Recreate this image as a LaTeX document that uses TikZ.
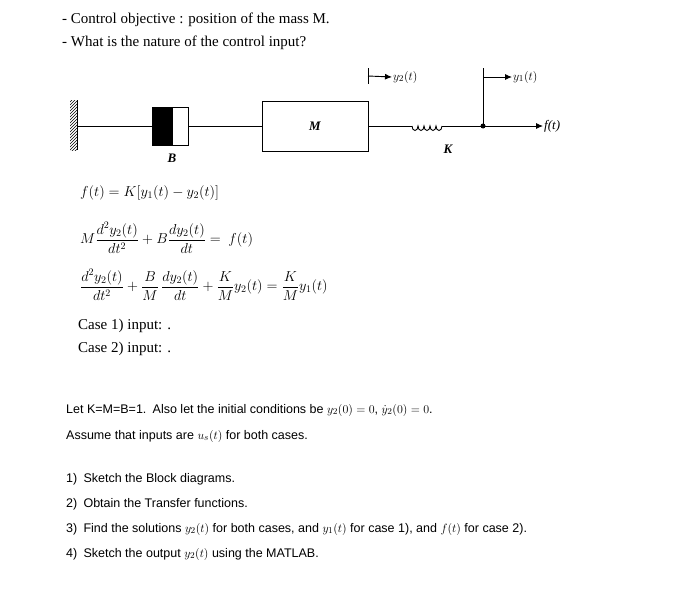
\documentclass[tikz,border=0pt]{standalone}
\usepackage{amsmath}
\usepackage{fontspec}
\setmainfont{Liberation Serif}
\setsansfont{Liberation Sans}
\usetikzlibrary{patterns,arrows.meta}
\begin{document}
\begin{tikzpicture}[x=1pt,y=-1pt,
  ln/.style={line width=0.9pt},
  arr/.style={ln,-{Latex[length=7pt,width=6pt]}},
  ser/.style={anchor=west,inner sep=0pt,font=\fontsize{15}{17}\selectfont},
  sans/.style={anchor=west,inner sep=0pt,font=\sffamily\fontsize{12.5}{15}\selectfont},
  eq/.style={anchor=west,inner sep=0pt,font=\fontsize{14}{16}\selectfont}]
\useasboundingbox (0,0) rectangle (700,589);
\node[ser] (t1) at (62,20) {- Control objective : position of the mass M.};
\node[ser] (t2) at (62,43) {- What is the nature of the control input?};
% wall
\fill[pattern=north east lines] (70,100) rectangle (77,150);
\draw[ln] (77,100) -- (77,150);
\node[draw,ln,fill=black,minimum width=20pt,minimum height=38pt,inner sep=0pt] (db) at (162,126) {};
\node[draw,ln,minimum width=16pt,minimum height=38pt,inner sep=0pt,anchor=west] (dw) at (db.east) {};
\node[draw,ln,minimum width=106pt,minimum height=50pt,inner sep=0pt,font=\itshape\bfseries\fontsize{13}{15}\selectfont] (m) at (315,126) {M};
\coordinate (w) at (77,126);
\draw[ln] (w) -- (db.west);
\draw[ln] (dw.east) -- (m.west);
\coordinate (s1) at (412,126);
\coordinate (s2) at (442,126);
\coordinate (j) at (483,126);
\draw[ln] (m.east) -- (s1);
\draw[ln] (s1) arc[start angle=180,end angle=0,x radius=3,y radius=4.5]
  arc[start angle=180,end angle=0,x radius=3,y radius=4.5]
  arc[start angle=180,end angle=0,x radius=3,y radius=4.5]
  arc[start angle=180,end angle=0,x radius=3,y radius=4.5]
  arc[start angle=180,end angle=0,x radius=3,y radius=4.5] -- (s2);
\draw[ln] (s2) -- (j);
\fill (j) circle (2.5pt);
\node[anchor=west,inner sep=1pt,font=\itshape\fontsize{13}{15}\selectfont] (f) at (543,126) {f(t)};
\draw[arr] (j) -- (f.west);
\coordinate (jt) at (483,68);
\draw[ln] (j) -- (jt);
\coordinate (y1s) at (483,77);
\node[anchor=west,inner sep=1pt,font=\fontsize{13}{15}\selectfont] (y1) at (512,77) {$y_1(t)$};
\draw[arr] (y1s) -- (y1.west);
\coordinate (y2a) at (368,68); \coordinate (y2b) at (368,84); \coordinate (y2s) at (368,76);
\draw[ln] (y2a) -- (y2b);
\node[anchor=west,inner sep=1pt,font=\fontsize{13}{15}\selectfont] (y2) at (392,77) {$y_2(t)$};
\draw[arr] (y2s) -- (y2.west);
\node[font=\itshape\bfseries\fontsize{13}{15}\selectfont] (K) at (448,149) {K};
\node[font=\itshape\bfseries\fontsize{13}{15}\selectfont] (B) at (172,158) {B};
% equations
\node[eq] (e1) at (80,193) {$f(t)=K[y_1(t)-y_2(t)]$};
\node[eq] (e2) at (80,238) {$M\dfrac{d^2y_2(t)}{dt^2}+B\dfrac{dy_2(t)}{dt}=\ f(t)$};
\node[eq] (e3) at (80,285) {$\dfrac{d^2y_2(t)}{dt^2}+\dfrac{B}{M}\,\dfrac{dy_2(t)}{dt}+\dfrac{K}{M}y_2(t)=\dfrac{K}{M}y_1(t)$};
\node[ser] (c1) at (78,326) {Case 1) input: .};
\node[ser] (c2) at (78,349) {Case 2) input: .};
% bottom text
\node[sans] (b1) at (66,410) {Let K=M=B=1.\enspace Also let the initial conditions be $y_2(0)=0$, $\dot y_2(0)=0$.};
\node[sans] (b2) at (66,436) {Assume that inputs are $u_s(t)$ for both cases.};
\node[sans] (b3) at (66,479) {1)\enspace Sketch the Block diagrams.};
\node[sans] (b4) at (66,504) {2)\enspace Obtain the Transfer functions.};
\node[sans] (b5) at (66,529) {3)\enspace Find the solutions $y_2(t)$ for both cases, and $y_1(t)$ for case 1), and $f(t)$ for case 2).};
\node[sans] (b6) at (66,554) {4)\enspace Sketch the output $y_2(t)$ using the MATLAB.};
\end{tikzpicture}
\end{document}
